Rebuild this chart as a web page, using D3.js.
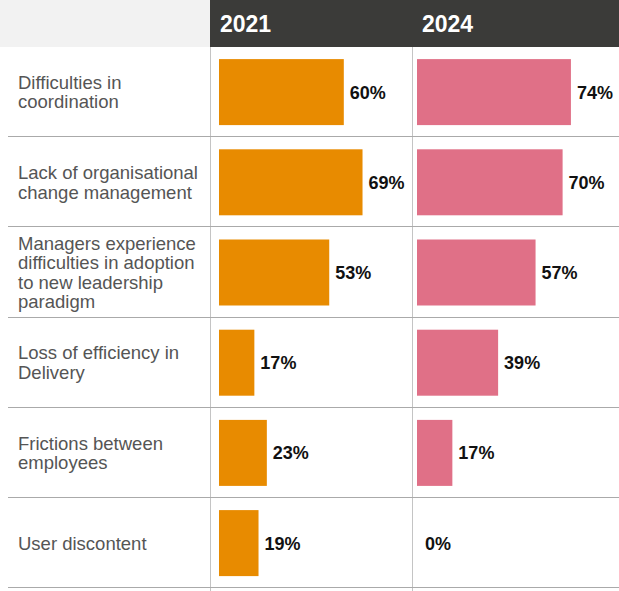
<!DOCTYPE html>
<html>
<head>
<meta charset="utf-8">
<script src="https://cdn.jsdelivr.net/npm/d3@7"></script>
<style>
  body { margin: 0; background: #fff; }
  svg { display: block; font-family: "Liberation Sans", Arial, sans-serif; }
</style>
</head>
<body>
<div id="chart"></div>
<script>
var categories = [
  ["Difficulties in", "coordination"],
  ["Lack of organisational", "change management"],
  ["Managers experience", "difficulties in adoption", "to new leadership", "paradigm"],
  ["Loss of efficiency in", "Delivery"],
  ["Frictions between", "employees"],
  ["User discontent"]
];
var years = ["2021", "2024"];
var values2021 = [60, 69, 53, 17, 23, 19];
var values2024 = [74, 70, 57, 39, 17, 0];

var width = 619, height = 591,
    headerH = 47, rowH = 90.2, barH = 66,
    colX = [210, 412], barX = [219, 417],
    colors = ["#e88b00", "#e07087"];

var series = [values2021, values2024];

var svg = d3.select("#chart").append("svg")
  .attr("width", width).attr("height", height);

// header
svg.append("rect").attr("x", 0).attr("y", 0).attr("width", colX[0]).attr("height", headerH).attr("fill", "#f2f2f2");
svg.append("rect").attr("x", colX[0]).attr("y", 0).attr("width", width - colX[0]).attr("height", headerH).attr("fill", "#3b3b39");
svg.selectAll("text.year")
  .data(years).enter().append("text")
  .attr("class", "year")
  .attr("x", function(d, i) { return colX[i] + 10; })
  .attr("y", 32)
  .attr("fill", "#fff")
  .attr("font-size", 23)
  .attr("font-weight", "bold")
  .text(function(d) { return d; });

var y = d3.scaleBand()
  .domain(d3.range(categories.length))
  .range([headerH, headerH + rowH * categories.length]);

var x = d3.scaleLinear().domain([0, 100]).range([0, 208]);

// grid lines
svg.selectAll("line.vgrid")
  .data(colX).enter().append("line")
  .attr("x1", function(d) { return d + 0.5; }).attr("x2", function(d) { return d + 0.5; })
  .attr("y1", headerH).attr("y2", height)
  .attr("stroke", "#c4c4c4");

svg.selectAll("line.hgrid")
  .data(d3.range(1, categories.length + 1)).enter().append("line")
  .attr("x1", 8).attr("x2", width)
  .attr("y1", function(d) { return Math.round(headerH + d * rowH) - 0.5; })
  .attr("y2", function(d) { return Math.round(headerH + d * rowH) - 0.5; })
  .attr("stroke", "#aaaaaa");

// category labels
var lineH = 19.5;
svg.selectAll("text.cat")
  .data(categories).enter().append("text")
  .attr("class", "cat")
  .attr("font-size", 18.5)
  .attr("fill", "#555")
  .each(function(d, i) {
    var cy = y(i) + y.bandwidth() / 2;
    var start = cy - (d.length - 1) * lineH / 2 + 6.5;
    d3.select(this).selectAll("tspan")
      .data(d).enter().append("tspan")
      .attr("x", 18)
      .attr("y", function(t, j) { return start + j * lineH; })
      .text(function(t) { return t; });
  });

// bars
series.forEach(function(vals, s) {
  var g = svg.append("g");
  g.selectAll("rect")
    .data(vals).enter().append("rect")
    .attr("x", barX[s])
    .attr("y", function(d, i) { return y(i) + (y.bandwidth() - barH) / 2; })
    .attr("width", function(d) { return x(d); })
    .attr("height", barH)
    .attr("fill", colors[s])
    .attr("stroke", function(d) { return d === 0 ? "#eee" : "none"; });

  g.selectAll("text")
    .data(vals).enter().append("text")
    .attr("x", function(d) { return barX[s] + x(d) + (d === 0 ? 8 : 6); })
    .attr("y", function(d, i) { return y(i) + y.bandwidth() / 2 + 6.5; })
    .attr("font-size", 18)
    .attr("font-weight", "bold")
    .attr("fill", "#111")
    .text(function(d) { return d + "%"; });
});
</script>
</body>
</html>
